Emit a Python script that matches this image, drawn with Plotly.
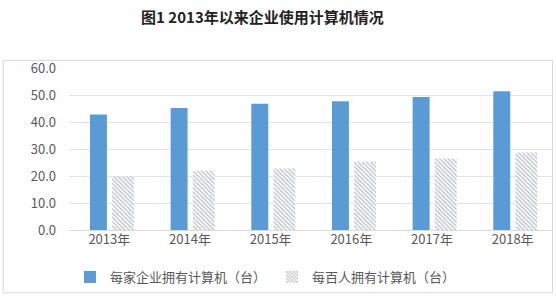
import plotly.graph_objects as go

years = ["2013年", "2014年", "2015年", "2016年", "2017年", "2018年"]
per_enterprise = [42.8, 45.2, 46.8, 47.7, 49.3, 51.4]
per_hundred = [19.7, 21.9, 22.8, 25.3, 26.5, 28.7]
name_a = "每家企业拥有计算机（台）"
name_b = "每百人拥有计算机（台）"
y_ticks = [0, 10, 20, 30, 40, 50, 60]

FONT = "Noto Sans CJK SC"
GRAY = "#595959"

fig = go.Figure()
fig.add_trace(go.Bar(
    x=years, y=per_enterprise, name=name_a,
    marker=dict(color="#5B9BD5", line=dict(width=0)),
    width=0.21, offset=-0.24,
))
fig.add_trace(go.Bar(
    x=years, y=per_hundred, name=name_b,
    marker=dict(color="white", line=dict(width=0),
                pattern=dict(shape="\\", fgcolor="#7a8490", bgcolor="white",
                             size=3, solidity=0.45)),
    width=0.27, offset=0.035,
))

fig.update_layout(
    width=556, height=296,
    margin=dict(l=69, r=3, t=68, b=66),
    paper_bgcolor="white", plot_bgcolor="white",
    barmode="group",
    font=dict(family=FONT, size=13, color=GRAY),
    title=dict(text="<b>图1 2013年以来企业使用计算机情况</b>",
               x=0.472, xanchor="center", y=0.94, yanchor="middle",
               yref="container",
               font=dict(family=FONT, size=15, color="#222222")),
    showlegend=True,
    legend=dict(orientation="h", x=0.002, xanchor="left",
                y=-0.29, yanchor="middle",
                font=dict(size=13, color=GRAY),
                entrywidth=157, entrywidthmode="pixels",
                bgcolor="rgba(0,0,0,0)"),
    shapes=[dict(type="rect", xref="paper", yref="paper",
                 x0=-0.136, x1=0.999, y0=-0.388, y1=1.047,
                 line=dict(color="#d9d9d9", width=1), layer="below")],
)
fig.update_xaxes(showgrid=False, showline=False, ticks="",
                 tickfont=dict(size=13, color=GRAY))
fig.update_yaxes(range=[0, 60], tickvals=y_ticks, tickformat=".1f",
                 showgrid=True, gridcolor="#e3e3e3", gridwidth=1,
                 zeroline=True, zerolinecolor="#d9d9d9", zerolinewidth=1,
                 showline=False, ticks="", ticklabelstandoff=12,
                 tickfont=dict(size=13, color=GRAY))

fig.write_html("out.html")
